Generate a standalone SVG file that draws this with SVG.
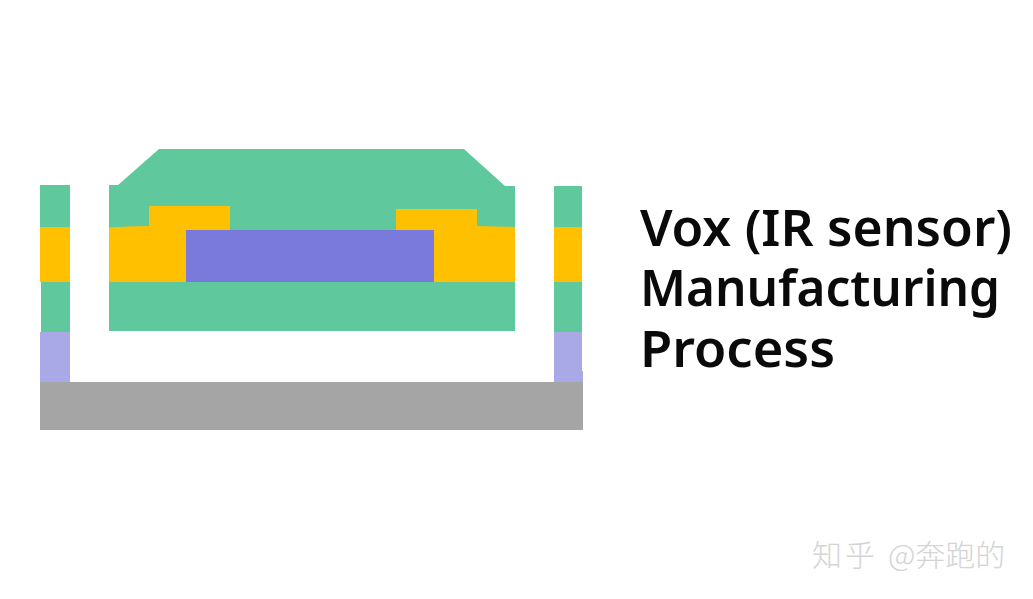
<svg xmlns="http://www.w3.org/2000/svg" width="1033" height="599" viewBox="0 0 1033 599">
<style>
.ox{fill:#5fc89c}.me{fill:#ffc000}.vo{fill:#7a7adc}.li{fill:#a9a9e8}.si{fill:#a5a5a5}
.t{font-family:"Noto Sans","Liberation Sans",sans-serif;font-size:50px;font-weight:600;fill:#0a0a0a}
.w{font-family:"Noto Sans CJK SC","Noto Sans",sans-serif;font-size:30px;font-weight:300;fill:#d4d4d4}
</style>
<rect width="1033" height="599" fill="#fff"/>
<g id="substrate"><rect class="si" x="40" y="382" width="543" height="48"/></g>
<g id="left-pillar">
<rect class="li" x="40" y="332" width="30" height="50"/>
<rect class="ox" x="41" y="282" width="29" height="50"/>
<rect class="me" x="40" y="227" width="30" height="55"/>
<rect class="ox" x="40" y="185" width="30" height="42"/>
</g>
<g id="right-pillar">
<rect class="li" x="554" y="332" width="28" height="50"/>
<rect class="li" x="582" y="371" width="1" height="11"/>
<rect class="ox" x="554" y="282" width="28" height="50"/>
<rect class="me" x="554" y="227" width="28" height="55"/>
<rect class="ox" x="554" y="186" width="28" height="41"/>
</g>
<g id="membrane">
<polygon class="ox" points="109,185 118,185 159,149 464,149 505,186 515,186 515,331 109,331"/>
<polygon class="me" points="109,227.5 128,226.5 149,226 149,206 230,206 230,230 396,230 396,209 477,209 477,226 496,226.5 515,227 515,282 109,282"/>
<rect class="vo" x="186" y="230" width="248" height="52"/>
</g>
<g id="title">
<text class="t" x="640" y="246" textLength="372" lengthAdjust="spacingAndGlyphs">Vox (IR sensor)</text>
<text class="t" x="640" y="306" textLength="360" lengthAdjust="spacingAndGlyphs">Manufacturing</text>
<text class="t" x="640" y="367" textLength="195" lengthAdjust="spacingAndGlyphs">Process</text>
</g>
<g id="watermark">
<text class="w" x="812" y="566" letter-spacing="3">知乎</text>
<text class="w" x="888" y="566">@奔跑的</text>
</g>
</svg>
